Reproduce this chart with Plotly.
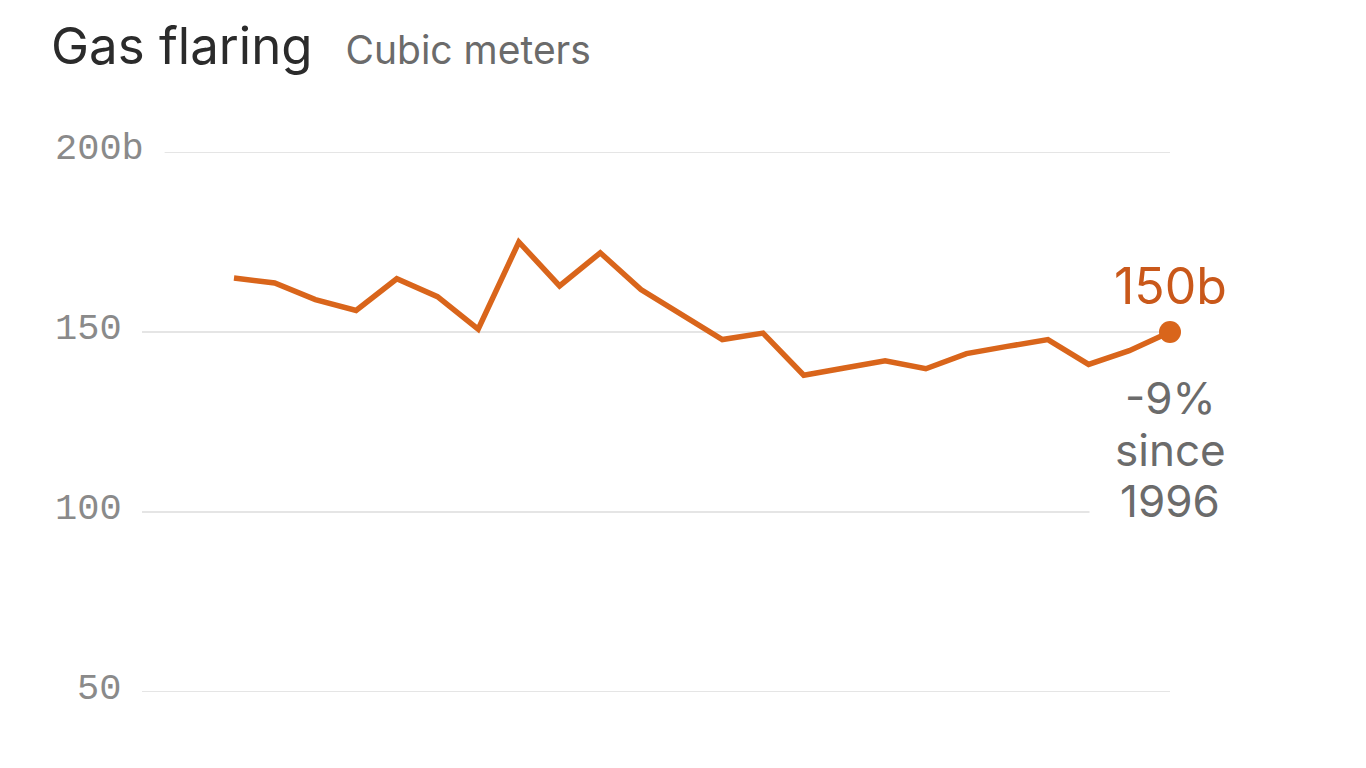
import plotly.graph_objects as go

years = list(range(1996, 2020))
flaring_bcm = [165, 163.6, 159, 156, 164.8, 159.8, 150.8, 175, 162.8, 172,
               161.8, 155, 147.9, 149.7, 138, 140, 142, 139.8, 144, 146,
               147.9, 141, 144.8, 150]

y_ticks = [50, 100, 150, 200]
y_tick_labels = ["50", "100", "150", "200b"]

title_text = "Gas flaring"
subtitle_text = "Cubic meters"
end_label = "150b"
change_lines = ["-9%", "since", "1996"]

ORANGE = "#D9651B"
ORANGE_TEXT = "#C9581A"
GRID = "#dcdcdc"

fig = go.Figure()

# gridlines and y labels
for v, lab in zip(y_ticks, y_tick_labels):
    x0 = 0.022 if lab.endswith("b") else 0.0
    fig.add_shape(type="line", xref="paper", yref="y", x0=x0, x1=1, y0=v, y1=v,
                  line=dict(color=GRID, width=1.5), layer="below")
    fig.add_annotation(xref="paper", yref="y", x=0, y=v, xanchor="right", yanchor="middle",
                       xshift=4, yshift=3, showarrow=False,
                       text=lab if lab.endswith("b") else lab + "&nbsp;",
                       font=dict(family="Liberation Mono", size=37, color="#8a8a8a"))

fig.add_trace(go.Scatter(x=years, y=flaring_bcm, mode="lines",
                         line=dict(color=ORANGE, width=5.5, shape="linear"),
                         cliponaxis=False, hoverinfo="skip"))
fig.add_trace(go.Scatter(x=[years[-1]], y=[flaring_bcm[-1]], mode="markers",
                         marker=dict(color=ORANGE, size=22), cliponaxis=False,
                         hoverinfo="skip"))

fig.add_annotation(x=years[-1], y=flaring_bcm[-1], text=end_label, showarrow=False,
                   xanchor="center", yanchor="middle", yshift=46,
                   font=dict(family="Inter", size=50, color=ORANGE_TEXT))
for i, line in enumerate(change_lines):
    fig.add_annotation(x=years[-1], y=flaring_bcm[-1], text=line, showarrow=False,
                       xanchor="center", yanchor="middle", yshift=-66 - 51.5 * i,
                       width=160 if i == len(change_lines) - 1 else None,
                       bgcolor="white" if i == len(change_lines) - 1 else None,
                       borderpad=0,
                       font=dict(family="Inter", size=44, color="#6b6b6b"))

fig.update_layout(
    width=1366, height=768,
    paper_bgcolor="white", plot_bgcolor="white",
    margin=dict(l=134, r=204, t=144, b=84),
    showlegend=False,
    title=dict(
        text=f"{title_text}<span style='font-size:39px;color:#6b6b6b'>&nbsp;&nbsp;&nbsp;{subtitle_text}</span>",
        x=43 / 1366, xanchor="left", xref="container",
        y=1 - 38 / 768, yanchor="middle", yref="container",
        font=dict(family="Inter", size=51, color="#2b2b2b"),
    ),
    xaxis=dict(range=[1996 - 92 / 40.7, 2019], showgrid=False, zeroline=False,
               showticklabels=False, showline=False, fixedrange=True),
    yaxis=dict(range=[50, 200], showgrid=False, zeroline=False,
               showticklabels=False, showline=False, fixedrange=True),
)

fig.write_html("out.html")
